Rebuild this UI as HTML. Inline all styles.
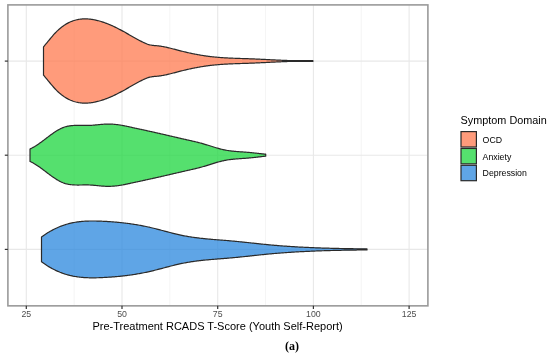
<!DOCTYPE html>
<html><head><meta charset="utf-8"><style>html,body{margin:0;padding:0;background:#fff;width:550px;height:355px;overflow:hidden}svg{display:block}text{font-family:"Liberation Sans",sans-serif}text.sf{font-family:"Liberation Serif",serif}</style></head>
<body>
<svg width="550" height="355" viewBox="0 0 550 355">
<rect x="0" y="0" width="550" height="355" fill="#ffffff"/>
<line x1="74.15" y1="4.9" x2="74.15" y2="305.85" stroke="#ececec" stroke-width="0.6"/>
<line x1="169.85" y1="4.9" x2="169.85" y2="305.85" stroke="#ececec" stroke-width="0.6"/>
<line x1="265.55" y1="4.9" x2="265.55" y2="305.85" stroke="#ececec" stroke-width="0.6"/>
<line x1="361.25" y1="4.9" x2="361.25" y2="305.85" stroke="#ececec" stroke-width="0.6"/>
<line x1="26.30" y1="4.9" x2="26.30" y2="305.85" stroke="#e8e8e8" stroke-width="1.1"/>
<line x1="122.00" y1="4.9" x2="122.00" y2="305.85" stroke="#e8e8e8" stroke-width="1.1"/>
<line x1="217.70" y1="4.9" x2="217.70" y2="305.85" stroke="#e8e8e8" stroke-width="1.1"/>
<line x1="313.40" y1="4.9" x2="313.40" y2="305.85" stroke="#e8e8e8" stroke-width="1.1"/>
<line x1="409.10" y1="4.9" x2="409.10" y2="305.85" stroke="#e8e8e8" stroke-width="1.1"/>
<line x1="7.9" y1="61.1" x2="427.9" y2="61.1" stroke="#e8e8e8" stroke-width="1.1"/>
<line x1="7.9" y1="155.2" x2="427.9" y2="155.2" stroke="#e8e8e8" stroke-width="1.1"/>
<line x1="7.9" y1="249.4" x2="427.9" y2="249.4" stroke="#e8e8e8" stroke-width="1.1"/>
<path d="M43.50,46.80 L44.40,45.77 L45.30,44.72 L46.20,43.65 L47.10,42.56 L48.01,41.46 L48.91,40.36 L49.81,39.25 L50.71,38.16 L51.61,37.08 L52.51,36.02 L53.41,34.98 L54.31,33.97 L55.21,33.00 L56.11,32.07 L57.02,31.17 L57.92,30.31 L58.82,29.48 L59.72,28.69 L60.62,27.94 L61.52,27.22 L62.42,26.54 L63.32,25.89 L64.22,25.27 L65.12,24.68 L66.03,24.13 L66.93,23.60 L67.83,23.11 L68.73,22.65 L69.63,22.22 L70.53,21.81 L71.43,21.44 L72.33,21.09 L73.23,20.77 L74.13,20.48 L75.04,20.21 L75.94,19.97 L76.84,19.76 L77.74,19.57 L78.64,19.40 L79.54,19.26 L80.44,19.14 L81.34,19.04 L82.24,18.97 L83.14,18.92 L84.05,18.88 L84.95,18.87 L85.85,18.88 L86.75,18.91 L87.65,18.95 L88.55,19.02 L89.45,19.10 L90.35,19.20 L91.25,19.31 L92.15,19.45 L93.06,19.59 L93.96,19.76 L94.86,19.93 L95.76,20.12 L96.66,20.33 L97.56,20.55 L98.46,20.78 L99.36,21.02 L100.26,21.28 L101.16,21.55 L102.07,21.83 L102.97,22.12 L103.87,22.43 L104.77,22.75 L105.67,23.07 L106.57,23.41 L107.47,23.76 L108.37,24.12 L109.27,24.49 L110.17,24.87 L111.08,25.26 L111.98,25.66 L112.88,26.07 L113.78,26.49 L114.68,26.91 L115.58,27.35 L116.48,27.79 L117.38,28.24 L118.28,28.70 L119.18,29.17 L120.09,29.64 L120.99,30.12 L121.89,30.61 L122.79,31.10 L123.69,31.60 L124.59,32.10 L125.49,32.60 L126.39,33.11 L127.29,33.62 L128.19,34.13 L129.10,34.65 L130.00,35.16 L130.90,35.68 L131.80,36.19 L132.70,36.70 L133.60,37.21 L134.50,37.72 L135.40,38.22 L136.30,38.72 L137.20,39.22 L138.11,39.71 L139.01,40.20 L139.91,40.68 L140.81,41.15 L141.71,41.61 L142.61,42.06 L143.51,42.49 L144.41,42.90 L145.31,43.29 L146.21,43.66 L147.12,44.00 L148.02,44.31 L148.92,44.59 L149.82,44.83 L150.72,45.03 L151.62,45.20 L152.52,45.33 L153.42,45.44 L154.32,45.54 L155.22,45.62 L156.13,45.69 L157.03,45.77 L157.93,45.86 L158.83,45.96 L159.73,46.08 L160.63,46.21 L161.53,46.35 L162.43,46.50 L163.33,46.66 L164.23,46.84 L165.14,47.02 L166.04,47.21 L166.94,47.41 L167.84,47.61 L168.74,47.82 L169.64,48.04 L170.54,48.27 L171.44,48.49 L172.34,48.72 L173.24,48.96 L174.15,49.19 L175.05,49.43 L175.95,49.67 L176.85,49.90 L177.75,50.14 L178.65,50.37 L179.55,50.61 L180.45,50.84 L181.35,51.06 L182.25,51.29 L183.16,51.51 L184.06,51.73 L184.96,51.94 L185.86,52.16 L186.76,52.36 L187.66,52.57 L188.56,52.77 L189.46,52.97 L190.36,53.17 L191.26,53.36 L192.17,53.55 L193.07,53.73 L193.97,53.92 L194.87,54.09 L195.77,54.27 L196.67,54.44 L197.57,54.61 L198.47,54.77 L199.37,54.93 L200.27,55.09 L201.18,55.24 L202.08,55.39 L202.98,55.53 L203.88,55.67 L204.78,55.81 L205.68,55.94 L206.58,56.07 L207.48,56.19 L208.38,56.31 L209.28,56.42 L210.19,56.53 L211.09,56.64 L211.99,56.74 L212.89,56.84 L213.79,56.93 L214.69,57.02 L215.59,57.11 L216.49,57.19 L217.39,57.27 L218.29,57.35 L219.20,57.42 L220.10,57.49 L221.00,57.56 L221.90,57.62 L222.80,57.68 L223.70,57.74 L224.60,57.79 L225.50,57.84 L226.40,57.89 L227.30,57.94 L228.21,57.99 L229.11,58.03 L230.01,58.07 L230.91,58.11 L231.81,58.15 L232.71,58.19 L233.61,58.23 L234.51,58.26 L235.41,58.29 L236.31,58.33 L237.22,58.36 L238.12,58.39 L239.02,58.42 L239.92,58.45 L240.82,58.48 L241.72,58.51 L242.62,58.54 L243.52,58.56 L244.42,58.59 L245.32,58.62 L246.23,58.65 L247.13,58.68 L248.03,58.71 L248.93,58.74 L249.83,58.78 L250.73,58.81 L251.63,58.84 L252.53,58.88 L253.43,58.91 L254.33,58.95 L255.24,58.99 L256.14,59.03 L257.04,59.07 L257.94,59.11 L258.84,59.15 L259.74,59.19 L260.64,59.24 L261.54,59.28 L262.44,59.33 L263.34,59.37 L264.25,59.42 L265.15,59.46 L266.05,59.51 L266.95,59.55 L267.85,59.60 L268.75,59.65 L269.65,59.69 L270.55,59.74 L271.45,59.78 L272.35,59.83 L273.26,59.87 L274.16,59.92 L275.06,59.96 L275.96,60.01 L276.86,60.05 L277.76,60.09 L278.66,60.14 L279.56,60.18 L280.46,60.22 L281.36,60.26 L282.27,60.30 L283.17,60.33 L284.07,60.37 L284.97,60.41 L285.87,60.44 L286.77,60.47 L287.67,60.50 L288.57,60.53 L289.47,60.56 L290.37,60.59 L291.28,60.61 L292.18,60.64 L293.08,60.66 L293.98,60.68 L294.88,60.70 L295.78,60.70 L296.68,60.70 L297.58,60.70 L298.48,60.70 L299.38,60.70 L300.29,60.70 L301.19,60.70 L302.09,60.70 L302.99,60.70 L303.89,60.70 L304.79,60.70 L305.69,60.70 L306.59,60.70 L307.49,60.70 L308.39,60.69 L309.30,60.67 L310.20,60.64 L311.10,60.61 L312.00,60.58 L312.90,60.55 L312.90,61.45 L312.00,61.42 L311.10,61.39 L310.20,61.36 L309.30,61.33 L308.39,61.31 L307.49,61.30 L306.59,61.30 L305.69,61.30 L304.79,61.30 L303.89,61.30 L302.99,61.30 L302.09,61.30 L301.19,61.30 L300.29,61.30 L299.38,61.30 L298.48,61.30 L297.58,61.30 L296.68,61.30 L295.78,61.30 L294.88,61.30 L293.98,61.32 L293.08,61.34 L292.18,61.36 L291.28,61.39 L290.37,61.41 L289.47,61.44 L288.57,61.47 L287.67,61.50 L286.77,61.53 L285.87,61.56 L284.97,61.59 L284.07,61.63 L283.17,61.67 L282.27,61.70 L281.36,61.74 L280.46,61.78 L279.56,61.82 L278.66,61.86 L277.76,61.91 L276.86,61.95 L275.96,61.99 L275.06,62.04 L274.16,62.08 L273.26,62.13 L272.35,62.17 L271.45,62.22 L270.55,62.26 L269.65,62.31 L268.75,62.35 L267.85,62.40 L266.95,62.45 L266.05,62.49 L265.15,62.54 L264.25,62.58 L263.34,62.63 L262.44,62.67 L261.54,62.72 L260.64,62.76 L259.74,62.81 L258.84,62.85 L257.94,62.89 L257.04,62.93 L256.14,62.97 L255.24,63.01 L254.33,63.05 L253.43,63.09 L252.53,63.12 L251.63,63.16 L250.73,63.19 L249.83,63.22 L248.93,63.26 L248.03,63.29 L247.13,63.32 L246.23,63.35 L245.32,63.38 L244.42,63.41 L243.52,63.44 L242.62,63.46 L241.72,63.49 L240.82,63.52 L239.92,63.55 L239.02,63.58 L238.12,63.61 L237.22,63.64 L236.31,63.67 L235.41,63.71 L234.51,63.74 L233.61,63.77 L232.71,63.81 L231.81,63.85 L230.91,63.89 L230.01,63.93 L229.11,63.97 L228.21,64.01 L227.30,64.06 L226.40,64.11 L225.50,64.16 L224.60,64.21 L223.70,64.26 L222.80,64.32 L221.90,64.38 L221.00,64.44 L220.10,64.51 L219.20,64.58 L218.29,64.65 L217.39,64.73 L216.49,64.81 L215.59,64.89 L214.69,64.98 L213.79,65.07 L212.89,65.16 L211.99,65.26 L211.09,65.36 L210.19,65.47 L209.28,65.58 L208.38,65.69 L207.48,65.81 L206.58,65.93 L205.68,66.06 L204.78,66.19 L203.88,66.33 L202.98,66.47 L202.08,66.61 L201.18,66.76 L200.27,66.91 L199.37,67.07 L198.47,67.23 L197.57,67.39 L196.67,67.56 L195.77,67.73 L194.87,67.91 L193.97,68.08 L193.07,68.27 L192.17,68.45 L191.26,68.64 L190.36,68.83 L189.46,69.03 L188.56,69.23 L187.66,69.43 L186.76,69.64 L185.86,69.84 L184.96,70.06 L184.06,70.27 L183.16,70.49 L182.25,70.71 L181.35,70.94 L180.45,71.16 L179.55,71.39 L178.65,71.63 L177.75,71.86 L176.85,72.10 L175.95,72.33 L175.05,72.57 L174.15,72.81 L173.24,73.04 L172.34,73.28 L171.44,73.51 L170.54,73.73 L169.64,73.96 L168.74,74.18 L167.84,74.39 L166.94,74.59 L166.04,74.79 L165.14,74.98 L164.23,75.16 L163.33,75.34 L162.43,75.50 L161.53,75.65 L160.63,75.79 L159.73,75.92 L158.83,76.04 L157.93,76.14 L157.03,76.23 L156.13,76.31 L155.22,76.38 L154.32,76.46 L153.42,76.56 L152.52,76.67 L151.62,76.80 L150.72,76.97 L149.82,77.17 L148.92,77.41 L148.02,77.69 L147.12,78.00 L146.21,78.34 L145.31,78.71 L144.41,79.10 L143.51,79.51 L142.61,79.94 L141.71,80.39 L140.81,80.85 L139.91,81.32 L139.01,81.80 L138.11,82.29 L137.20,82.78 L136.30,83.28 L135.40,83.78 L134.50,84.28 L133.60,84.79 L132.70,85.30 L131.80,85.81 L130.90,86.32 L130.00,86.84 L129.10,87.35 L128.19,87.87 L127.29,88.38 L126.39,88.89 L125.49,89.40 L124.59,89.90 L123.69,90.40 L122.79,90.90 L121.89,91.39 L120.99,91.88 L120.09,92.36 L119.18,92.83 L118.28,93.30 L117.38,93.76 L116.48,94.21 L115.58,94.65 L114.68,95.09 L113.78,95.51 L112.88,95.93 L111.98,96.34 L111.08,96.74 L110.17,97.13 L109.27,97.51 L108.37,97.88 L107.47,98.24 L106.57,98.59 L105.67,98.93 L104.77,99.25 L103.87,99.57 L102.97,99.88 L102.07,100.17 L101.16,100.45 L100.26,100.72 L99.36,100.98 L98.46,101.22 L97.56,101.45 L96.66,101.67 L95.76,101.88 L94.86,102.07 L93.96,102.24 L93.06,102.41 L92.15,102.55 L91.25,102.69 L90.35,102.80 L89.45,102.90 L88.55,102.98 L87.65,103.05 L86.75,103.09 L85.85,103.12 L84.95,103.13 L84.05,103.12 L83.14,103.08 L82.24,103.03 L81.34,102.96 L80.44,102.86 L79.54,102.74 L78.64,102.60 L77.74,102.43 L76.84,102.24 L75.94,102.03 L75.04,101.79 L74.13,101.52 L73.23,101.23 L72.33,100.91 L71.43,100.56 L70.53,100.19 L69.63,99.78 L68.73,99.35 L67.83,98.89 L66.93,98.40 L66.03,97.87 L65.12,97.32 L64.22,96.73 L63.32,96.11 L62.42,95.46 L61.52,94.78 L60.62,94.06 L59.72,93.31 L58.82,92.52 L57.92,91.69 L57.02,90.83 L56.11,89.93 L55.21,89.00 L54.31,88.03 L53.41,87.02 L52.51,85.98 L51.61,84.92 L50.71,83.84 L49.81,82.75 L48.91,81.64 L48.01,80.54 L47.10,79.44 L46.20,78.35 L45.30,77.28 L44.40,76.23 L43.50,75.20 Z" fill="#FF7A4F" fill-opacity="0.75" stroke="#2a2a2a" stroke-width="1.2" stroke-linejoin="round"/>
<path d="M30.00,149.00 L30.79,148.62 L31.58,148.22 L32.36,147.81 L33.15,147.37 L33.94,146.92 L34.73,146.46 L35.52,145.97 L36.31,145.48 L37.09,144.96 L37.88,144.44 L38.67,143.90 L39.46,143.36 L40.25,142.80 L41.04,142.23 L41.82,141.65 L42.61,141.07 L43.40,140.48 L44.19,139.88 L44.98,139.28 L45.77,138.68 L46.55,138.08 L47.34,137.47 L48.13,136.87 L48.92,136.28 L49.71,135.68 L50.50,135.10 L51.28,134.52 L52.07,133.95 L52.86,133.39 L53.65,132.84 L54.44,132.31 L55.23,131.79 L56.01,131.28 L56.80,130.79 L57.59,130.32 L58.38,129.86 L59.17,129.43 L59.96,129.01 L60.74,128.62 L61.53,128.25 L62.32,127.91 L63.11,127.59 L63.90,127.30 L64.68,127.03 L65.47,126.79 L66.26,126.58 L67.05,126.38 L67.84,126.21 L68.63,126.06 L69.41,125.92 L70.20,125.81 L70.99,125.71 L71.78,125.63 L72.57,125.56 L73.36,125.50 L74.14,125.46 L74.93,125.42 L75.72,125.40 L76.51,125.38 L77.30,125.37 L78.09,125.37 L78.87,125.37 L79.66,125.38 L80.45,125.39 L81.24,125.40 L82.03,125.41 L82.82,125.43 L83.60,125.44 L84.39,125.45 L85.18,125.46 L85.97,125.46 L86.76,125.46 L87.55,125.45 L88.33,125.44 L89.12,125.42 L89.91,125.39 L90.70,125.35 L91.49,125.31 L92.28,125.25 L93.06,125.19 L93.85,125.12 L94.64,125.05 L95.43,124.97 L96.22,124.90 L97.01,124.81 L97.79,124.73 L98.58,124.65 L99.37,124.57 L100.16,124.49 L100.95,124.42 L101.73,124.35 L102.52,124.29 L103.31,124.23 L104.10,124.18 L104.89,124.14 L105.68,124.11 L106.46,124.09 L107.25,124.07 L108.04,124.07 L108.83,124.07 L109.62,124.08 L110.41,124.10 L111.19,124.13 L111.98,124.16 L112.77,124.21 L113.56,124.26 L114.35,124.33 L115.14,124.40 L115.92,124.48 L116.71,124.57 L117.50,124.66 L118.29,124.77 L119.08,124.88 L119.87,125.00 L120.65,125.13 L121.44,125.27 L122.23,125.41 L123.02,125.55 L123.81,125.71 L124.60,125.86 L125.38,126.02 L126.17,126.19 L126.96,126.35 L127.75,126.52 L128.54,126.69 L129.33,126.86 L130.11,127.03 L130.90,127.20 L131.69,127.38 L132.48,127.55 L133.27,127.72 L134.05,127.89 L134.84,128.06 L135.63,128.23 L136.42,128.40 L137.21,128.57 L138.00,128.74 L138.78,128.91 L139.57,129.09 L140.36,129.26 L141.15,129.43 L141.94,129.60 L142.73,129.77 L143.51,129.94 L144.30,130.11 L145.09,130.28 L145.88,130.45 L146.67,130.63 L147.46,130.80 L148.24,130.97 L149.03,131.14 L149.82,131.32 L150.61,131.49 L151.40,131.66 L152.19,131.84 L152.97,132.01 L153.76,132.19 L154.55,132.36 L155.34,132.54 L156.13,132.72 L156.92,132.89 L157.70,133.07 L158.49,133.25 L159.28,133.43 L160.07,133.61 L160.86,133.79 L161.65,133.97 L162.43,134.15 L163.22,134.33 L164.01,134.51 L164.80,134.69 L165.59,134.88 L166.37,135.06 L167.16,135.24 L167.95,135.42 L168.74,135.61 L169.53,135.79 L170.32,135.97 L171.10,136.16 L171.89,136.34 L172.68,136.52 L173.47,136.71 L174.26,136.89 L175.05,137.08 L175.83,137.26 L176.62,137.44 L177.41,137.62 L178.20,137.81 L178.99,137.99 L179.78,138.17 L180.56,138.36 L181.35,138.54 L182.14,138.72 L182.93,138.90 L183.72,139.08 L184.51,139.26 L185.29,139.44 L186.08,139.62 L186.87,139.80 L187.66,139.98 L188.45,140.15 L189.24,140.33 L190.02,140.51 L190.81,140.69 L191.60,140.87 L192.39,141.05 L193.18,141.23 L193.97,141.41 L194.75,141.60 L195.54,141.79 L196.33,141.98 L197.12,142.17 L197.91,142.37 L198.69,142.57 L199.48,142.77 L200.27,142.98 L201.06,143.19 L201.85,143.41 L202.64,143.63 L203.42,143.86 L204.21,144.09 L205.00,144.32 L205.79,144.56 L206.58,144.81 L207.37,145.05 L208.15,145.30 L208.94,145.55 L209.73,145.79 L210.52,146.04 L211.31,146.29 L212.10,146.54 L212.88,146.78 L213.67,147.03 L214.46,147.27 L215.25,147.51 L216.04,147.74 L216.83,147.98 L217.61,148.20 L218.40,148.42 L219.19,148.64 L219.98,148.85 L220.77,149.05 L221.56,149.25 L222.34,149.44 L223.13,149.61 L223.92,149.79 L224.71,149.95 L225.50,150.10 L226.29,150.24 L227.07,150.38 L227.86,150.50 L228.65,150.62 L229.44,150.73 L230.23,150.84 L231.02,150.94 L231.80,151.03 L232.59,151.12 L233.38,151.20 L234.17,151.28 L234.96,151.35 L235.74,151.42 L236.53,151.49 L237.32,151.55 L238.11,151.61 L238.90,151.67 L239.69,151.73 L240.47,151.79 L241.26,151.84 L242.05,151.89 L242.84,151.95 L243.63,152.00 L244.42,152.06 L245.20,152.12 L245.99,152.17 L246.78,152.23 L247.57,152.30 L248.36,152.36 L249.15,152.43 L249.93,152.50 L250.72,152.58 L251.51,152.66 L252.30,152.74 L253.09,152.82 L253.88,152.91 L254.66,152.99 L255.45,153.08 L256.24,153.17 L257.03,153.26 L257.82,153.35 L258.61,153.44 L259.39,153.53 L260.18,153.62 L260.97,153.71 L261.76,153.80 L262.55,153.88 L263.34,153.97 L264.12,154.05 L264.91,154.13 L265.70,154.20 L265.70,156.20 L264.91,156.27 L264.12,156.35 L263.34,156.43 L262.55,156.52 L261.76,156.60 L260.97,156.69 L260.18,156.78 L259.39,156.87 L258.61,156.96 L257.82,157.05 L257.03,157.14 L256.24,157.23 L255.45,157.32 L254.66,157.41 L253.88,157.49 L253.09,157.58 L252.30,157.66 L251.51,157.74 L250.72,157.82 L249.93,157.90 L249.15,157.97 L248.36,158.04 L247.57,158.10 L246.78,158.17 L245.99,158.23 L245.20,158.28 L244.42,158.34 L243.63,158.40 L242.84,158.45 L242.05,158.51 L241.26,158.56 L240.47,158.61 L239.69,158.67 L238.90,158.73 L238.11,158.79 L237.32,158.85 L236.53,158.91 L235.74,158.98 L234.96,159.05 L234.17,159.12 L233.38,159.20 L232.59,159.28 L231.80,159.37 L231.02,159.46 L230.23,159.56 L229.44,159.67 L228.65,159.78 L227.86,159.90 L227.07,160.02 L226.29,160.16 L225.50,160.30 L224.71,160.45 L223.92,160.61 L223.13,160.79 L222.34,160.96 L221.56,161.15 L220.77,161.35 L219.98,161.55 L219.19,161.76 L218.40,161.98 L217.61,162.20 L216.83,162.42 L216.04,162.66 L215.25,162.89 L214.46,163.13 L213.67,163.37 L212.88,163.62 L212.10,163.86 L211.31,164.11 L210.52,164.36 L209.73,164.61 L208.94,164.85 L208.15,165.10 L207.37,165.35 L206.58,165.59 L205.79,165.84 L205.00,166.08 L204.21,166.31 L203.42,166.54 L202.64,166.77 L201.85,166.99 L201.06,167.21 L200.27,167.42 L199.48,167.63 L198.69,167.83 L197.91,168.03 L197.12,168.23 L196.33,168.42 L195.54,168.61 L194.75,168.80 L193.97,168.99 L193.18,169.17 L192.39,169.35 L191.60,169.53 L190.81,169.71 L190.02,169.89 L189.24,170.07 L188.45,170.25 L187.66,170.42 L186.87,170.60 L186.08,170.78 L185.29,170.96 L184.51,171.14 L183.72,171.32 L182.93,171.50 L182.14,171.68 L181.35,171.86 L180.56,172.04 L179.78,172.23 L178.99,172.41 L178.20,172.59 L177.41,172.78 L176.62,172.96 L175.83,173.14 L175.05,173.32 L174.26,173.51 L173.47,173.69 L172.68,173.88 L171.89,174.06 L171.10,174.24 L170.32,174.43 L169.53,174.61 L168.74,174.79 L167.95,174.98 L167.16,175.16 L166.37,175.34 L165.59,175.52 L164.80,175.71 L164.01,175.89 L163.22,176.07 L162.43,176.25 L161.65,176.43 L160.86,176.61 L160.07,176.79 L159.28,176.97 L158.49,177.15 L157.70,177.33 L156.92,177.51 L156.13,177.68 L155.34,177.86 L154.55,178.04 L153.76,178.21 L152.97,178.39 L152.19,178.56 L151.40,178.74 L150.61,178.91 L149.82,179.08 L149.03,179.26 L148.24,179.43 L147.46,179.60 L146.67,179.77 L145.88,179.95 L145.09,180.12 L144.30,180.29 L143.51,180.46 L142.73,180.63 L141.94,180.80 L141.15,180.97 L140.36,181.14 L139.57,181.31 L138.78,181.49 L138.00,181.66 L137.21,181.83 L136.42,182.00 L135.63,182.17 L134.84,182.34 L134.05,182.51 L133.27,182.68 L132.48,182.85 L131.69,183.02 L130.90,183.20 L130.11,183.37 L129.33,183.54 L128.54,183.71 L127.75,183.88 L126.96,184.05 L126.17,184.21 L125.38,184.38 L124.60,184.54 L123.81,184.69 L123.02,184.85 L122.23,184.99 L121.44,185.13 L120.65,185.27 L119.87,185.40 L119.08,185.52 L118.29,185.63 L117.50,185.74 L116.71,185.83 L115.92,185.92 L115.14,186.00 L114.35,186.07 L113.56,186.14 L112.77,186.19 L111.98,186.24 L111.19,186.27 L110.41,186.30 L109.62,186.32 L108.83,186.33 L108.04,186.33 L107.25,186.33 L106.46,186.31 L105.68,186.29 L104.89,186.26 L104.10,186.22 L103.31,186.17 L102.52,186.11 L101.73,186.05 L100.95,185.98 L100.16,185.91 L99.37,185.83 L98.58,185.75 L97.79,185.67 L97.01,185.59 L96.22,185.50 L95.43,185.43 L94.64,185.35 L93.85,185.28 L93.06,185.21 L92.28,185.15 L91.49,185.09 L90.70,185.05 L89.91,185.01 L89.12,184.98 L88.33,184.96 L87.55,184.95 L86.76,184.94 L85.97,184.94 L85.18,184.94 L84.39,184.95 L83.60,184.96 L82.82,184.97 L82.03,184.99 L81.24,185.00 L80.45,185.01 L79.66,185.02 L78.87,185.03 L78.09,185.03 L77.30,185.03 L76.51,185.02 L75.72,185.00 L74.93,184.98 L74.14,184.94 L73.36,184.90 L72.57,184.84 L71.78,184.77 L70.99,184.69 L70.20,184.59 L69.41,184.48 L68.63,184.34 L67.84,184.19 L67.05,184.02 L66.26,183.82 L65.47,183.61 L64.68,183.37 L63.90,183.10 L63.11,182.81 L62.32,182.49 L61.53,182.15 L60.74,181.78 L59.96,181.39 L59.17,180.97 L58.38,180.54 L57.59,180.08 L56.80,179.61 L56.01,179.12 L55.23,178.61 L54.44,178.09 L53.65,177.56 L52.86,177.01 L52.07,176.45 L51.28,175.88 L50.50,175.30 L49.71,174.72 L48.92,174.12 L48.13,173.53 L47.34,172.93 L46.55,172.32 L45.77,171.72 L44.98,171.12 L44.19,170.52 L43.40,169.92 L42.61,169.33 L41.82,168.75 L41.04,168.17 L40.25,167.60 L39.46,167.04 L38.67,166.50 L37.88,165.96 L37.09,165.44 L36.31,164.92 L35.52,164.43 L34.73,163.94 L33.94,163.48 L33.15,163.03 L32.36,162.59 L31.58,162.18 L30.79,161.78 L30.00,161.40 Z" fill="#1CD63E" fill-opacity="0.75" stroke="#2a2a2a" stroke-width="1.2" stroke-linejoin="round"/>
<path d="M41.50,237.00 L42.59,236.22 L43.68,235.45 L44.77,234.70 L45.85,233.98 L46.94,233.28 L48.03,232.60 L49.12,231.94 L50.21,231.31 L51.30,230.70 L52.39,230.10 L53.47,229.53 L54.56,228.98 L55.65,228.45 L56.74,227.95 L57.83,227.46 L58.92,226.99 L60.01,226.54 L61.10,226.12 L62.18,225.71 L63.27,225.32 L64.36,224.95 L65.45,224.60 L66.54,224.27 L67.63,223.96 L68.72,223.67 L69.80,223.39 L70.89,223.14 L71.98,222.90 L73.07,222.67 L74.16,222.47 L75.25,222.28 L76.34,222.10 L77.42,221.94 L78.51,221.79 L79.60,221.66 L80.69,221.54 L81.78,221.43 L82.87,221.34 L83.96,221.26 L85.05,221.19 L86.13,221.13 L87.22,221.08 L88.31,221.04 L89.40,221.01 L90.49,220.99 L91.58,220.98 L92.67,220.98 L93.75,220.98 L94.84,221.00 L95.93,221.02 L97.02,221.04 L98.11,221.07 L99.20,221.11 L100.29,221.15 L101.37,221.19 L102.46,221.24 L103.55,221.30 L104.64,221.35 L105.73,221.41 L106.82,221.47 L107.91,221.54 L108.99,221.61 L110.08,221.68 L111.17,221.76 L112.26,221.84 L113.35,221.92 L114.44,222.01 L115.53,222.10 L116.62,222.20 L117.70,222.29 L118.79,222.40 L119.88,222.51 L120.97,222.62 L122.06,222.73 L123.15,222.85 L124.24,222.98 L125.32,223.11 L126.41,223.24 L127.50,223.38 L128.59,223.52 L129.68,223.67 L130.77,223.82 L131.86,223.98 L132.94,224.14 L134.03,224.31 L135.12,224.48 L136.21,224.66 L137.30,224.84 L138.39,225.03 L139.48,225.22 L140.57,225.42 L141.65,225.62 L142.74,225.83 L143.83,226.05 L144.92,226.27 L146.01,226.50 L147.10,226.73 L148.19,226.97 L149.27,227.21 L150.36,227.46 L151.45,227.72 L152.54,227.98 L153.63,228.25 L154.72,228.52 L155.81,228.79 L156.89,229.07 L157.98,229.35 L159.07,229.64 L160.16,229.92 L161.25,230.21 L162.34,230.50 L163.43,230.79 L164.52,231.08 L165.60,231.36 L166.69,231.65 L167.78,231.94 L168.87,232.23 L169.96,232.51 L171.05,232.79 L172.14,233.07 L173.22,233.34 L174.31,233.61 L175.40,233.88 L176.49,234.14 L177.58,234.39 L178.67,234.64 L179.76,234.88 L180.84,235.12 L181.93,235.35 L183.02,235.57 L184.11,235.79 L185.20,235.99 L186.29,236.19 L187.38,236.38 L188.46,236.57 L189.55,236.75 L190.64,236.92 L191.73,237.09 L192.82,237.25 L193.91,237.40 L195.00,237.55 L196.09,237.70 L197.17,237.84 L198.26,237.97 L199.35,238.10 L200.44,238.23 L201.53,238.35 L202.62,238.46 L203.71,238.58 L204.79,238.69 L205.88,238.80 L206.97,238.90 L208.06,239.00 L209.15,239.10 L210.24,239.20 L211.33,239.29 L212.41,239.39 L213.50,239.48 L214.59,239.57 L215.68,239.66 L216.77,239.74 L217.86,239.83 L218.95,239.92 L220.04,240.00 L221.12,240.09 L222.21,240.17 L223.30,240.26 L224.39,240.35 L225.48,240.44 L226.57,240.52 L227.66,240.62 L228.74,240.71 L229.83,240.80 L230.92,240.90 L232.01,240.99 L233.10,241.09 L234.19,241.19 L235.28,241.30 L236.36,241.40 L237.45,241.51 L238.54,241.62 L239.63,241.73 L240.72,241.84 L241.81,241.95 L242.90,242.06 L243.98,242.18 L245.07,242.29 L246.16,242.40 L247.25,242.52 L248.34,242.64 L249.43,242.75 L250.52,242.87 L251.61,242.99 L252.69,243.10 L253.78,243.22 L254.87,243.34 L255.96,243.45 L257.05,243.57 L258.14,243.69 L259.23,243.80 L260.31,243.91 L261.40,244.03 L262.49,244.14 L263.58,244.25 L264.67,244.36 L265.76,244.47 L266.85,244.58 L267.93,244.68 L269.02,244.79 L270.11,244.89 L271.20,244.99 L272.29,245.09 L273.38,245.19 L274.47,245.28 L275.56,245.37 L276.64,245.47 L277.73,245.56 L278.82,245.64 L279.91,245.73 L281.00,245.82 L282.09,245.90 L283.18,245.98 L284.26,246.06 L285.35,246.14 L286.44,246.22 L287.53,246.30 L288.62,246.37 L289.71,246.44 L290.80,246.51 L291.88,246.58 L292.97,246.65 L294.06,246.72 L295.15,246.79 L296.24,246.85 L297.33,246.91 L298.42,246.98 L299.51,247.04 L300.59,247.09 L301.68,247.15 L302.77,247.21 L303.86,247.26 L304.95,247.32 L306.04,247.37 L307.13,247.42 L308.21,247.47 L309.30,247.52 L310.39,247.57 L311.48,247.62 L312.57,247.66 L313.66,247.71 L314.75,247.75 L315.83,247.79 L316.92,247.83 L318.01,247.87 L319.10,247.91 L320.19,247.95 L321.28,247.99 L322.37,248.03 L323.45,248.06 L324.54,248.10 L325.63,248.13 L326.72,248.16 L327.81,248.19 L328.90,248.22 L329.99,248.25 L331.08,248.28 L332.16,248.31 L333.25,248.34 L334.34,248.37 L335.43,248.39 L336.52,248.42 L337.61,248.44 L338.70,248.47 L339.78,248.49 L340.87,248.51 L341.96,248.53 L343.05,248.56 L344.14,248.58 L345.23,248.60 L346.32,248.62 L347.40,248.63 L348.49,248.65 L349.58,248.67 L350.67,248.69 L351.76,248.70 L352.85,248.72 L353.94,248.74 L355.03,248.75 L356.11,248.77 L357.20,248.78 L358.29,248.80 L359.38,248.81 L360.47,248.82 L361.56,248.84 L362.65,248.85 L363.73,248.86 L364.82,248.87 L365.91,248.89 L367.00,248.90 L367.00,249.90 L365.91,249.91 L364.82,249.93 L363.73,249.94 L362.65,249.95 L361.56,249.96 L360.47,249.98 L359.38,249.99 L358.29,250.00 L357.20,250.02 L356.11,250.03 L355.03,250.05 L353.94,250.06 L352.85,250.08 L351.76,250.10 L350.67,250.11 L349.58,250.13 L348.49,250.15 L347.40,250.17 L346.32,250.18 L345.23,250.20 L344.14,250.22 L343.05,250.24 L341.96,250.27 L340.87,250.29 L339.78,250.31 L338.70,250.33 L337.61,250.36 L336.52,250.38 L335.43,250.41 L334.34,250.43 L333.25,250.46 L332.16,250.49 L331.08,250.52 L329.99,250.55 L328.90,250.58 L327.81,250.61 L326.72,250.64 L325.63,250.67 L324.54,250.70 L323.45,250.74 L322.37,250.77 L321.28,250.81 L320.19,250.85 L319.10,250.89 L318.01,250.93 L316.92,250.97 L315.83,251.01 L314.75,251.05 L313.66,251.09 L312.57,251.14 L311.48,251.18 L310.39,251.23 L309.30,251.28 L308.21,251.33 L307.13,251.38 L306.04,251.43 L304.95,251.48 L303.86,251.54 L302.77,251.59 L301.68,251.65 L300.59,251.71 L299.51,251.76 L298.42,251.82 L297.33,251.89 L296.24,251.95 L295.15,252.01 L294.06,252.08 L292.97,252.15 L291.88,252.22 L290.80,252.29 L289.71,252.36 L288.62,252.43 L287.53,252.50 L286.44,252.58 L285.35,252.66 L284.26,252.74 L283.18,252.82 L282.09,252.90 L281.00,252.98 L279.91,253.07 L278.82,253.16 L277.73,253.24 L276.64,253.33 L275.56,253.43 L274.47,253.52 L273.38,253.61 L272.29,253.71 L271.20,253.81 L270.11,253.91 L269.02,254.01 L267.93,254.12 L266.85,254.22 L265.76,254.33 L264.67,254.44 L263.58,254.55 L262.49,254.66 L261.40,254.77 L260.31,254.89 L259.23,255.00 L258.14,255.11 L257.05,255.23 L255.96,255.35 L254.87,255.46 L253.78,255.58 L252.69,255.70 L251.61,255.81 L250.52,255.93 L249.43,256.05 L248.34,256.16 L247.25,256.28 L246.16,256.40 L245.07,256.51 L243.98,256.62 L242.90,256.74 L241.81,256.85 L240.72,256.96 L239.63,257.07 L238.54,257.18 L237.45,257.29 L236.36,257.40 L235.28,257.50 L234.19,257.61 L233.10,257.71 L232.01,257.81 L230.92,257.90 L229.83,258.00 L228.74,258.09 L227.66,258.18 L226.57,258.28 L225.48,258.36 L224.39,258.45 L223.30,258.54 L222.21,258.63 L221.12,258.71 L220.04,258.80 L218.95,258.88 L217.86,258.97 L216.77,259.06 L215.68,259.14 L214.59,259.23 L213.50,259.32 L212.41,259.41 L211.33,259.51 L210.24,259.60 L209.15,259.70 L208.06,259.80 L206.97,259.90 L205.88,260.00 L204.79,260.11 L203.71,260.22 L202.62,260.34 L201.53,260.45 L200.44,260.57 L199.35,260.70 L198.26,260.83 L197.17,260.96 L196.09,261.10 L195.00,261.25 L193.91,261.40 L192.82,261.55 L191.73,261.71 L190.64,261.88 L189.55,262.05 L188.46,262.23 L187.38,262.42 L186.29,262.61 L185.20,262.81 L184.11,263.01 L183.02,263.23 L181.93,263.45 L180.84,263.68 L179.76,263.92 L178.67,264.16 L177.58,264.41 L176.49,264.66 L175.40,264.92 L174.31,265.19 L173.22,265.46 L172.14,265.73 L171.05,266.01 L169.96,266.29 L168.87,266.57 L167.78,266.86 L166.69,267.15 L165.60,267.44 L164.52,267.72 L163.43,268.01 L162.34,268.30 L161.25,268.59 L160.16,268.88 L159.07,269.16 L157.98,269.45 L156.89,269.73 L155.81,270.01 L154.72,270.28 L153.63,270.55 L152.54,270.82 L151.45,271.08 L150.36,271.34 L149.27,271.59 L148.19,271.83 L147.10,272.07 L146.01,272.30 L144.92,272.53 L143.83,272.75 L142.74,272.97 L141.65,273.18 L140.57,273.38 L139.48,273.58 L138.39,273.77 L137.30,273.96 L136.21,274.14 L135.12,274.32 L134.03,274.49 L132.94,274.66 L131.86,274.82 L130.77,274.98 L129.68,275.13 L128.59,275.28 L127.50,275.42 L126.41,275.56 L125.32,275.69 L124.24,275.82 L123.15,275.95 L122.06,276.07 L120.97,276.18 L119.88,276.29 L118.79,276.40 L117.70,276.51 L116.62,276.60 L115.53,276.70 L114.44,276.79 L113.35,276.88 L112.26,276.96 L111.17,277.04 L110.08,277.12 L108.99,277.19 L107.91,277.26 L106.82,277.33 L105.73,277.39 L104.64,277.45 L103.55,277.50 L102.46,277.56 L101.37,277.61 L100.29,277.65 L99.20,277.69 L98.11,277.73 L97.02,277.76 L95.93,277.78 L94.84,277.80 L93.75,277.82 L92.67,277.82 L91.58,277.82 L90.49,277.81 L89.40,277.79 L88.31,277.76 L87.22,277.72 L86.13,277.67 L85.05,277.61 L83.96,277.54 L82.87,277.46 L81.78,277.37 L80.69,277.26 L79.60,277.14 L78.51,277.01 L77.42,276.86 L76.34,276.70 L75.25,276.52 L74.16,276.33 L73.07,276.13 L71.98,275.90 L70.89,275.66 L69.80,275.41 L68.72,275.13 L67.63,274.84 L66.54,274.53 L65.45,274.20 L64.36,273.85 L63.27,273.48 L62.18,273.09 L61.10,272.68 L60.01,272.26 L58.92,271.81 L57.83,271.34 L56.74,270.85 L55.65,270.35 L54.56,269.82 L53.47,269.27 L52.39,268.70 L51.30,268.10 L50.21,267.49 L49.12,266.86 L48.03,266.20 L46.94,265.52 L45.85,264.82 L44.77,264.10 L43.68,263.35 L42.59,262.58 L41.50,261.80 Z" fill="#2A87DE" fill-opacity="0.75" stroke="#2a2a2a" stroke-width="1.2" stroke-linejoin="round"/>
<rect x="7.9" y="4.9" width="420.00" height="300.95" fill="none" stroke="#9a9a9a" stroke-width="1.6"/>
<line x1="4.8" y1="61.1" x2="7.9" y2="61.1" stroke="#333" stroke-width="1.2"/>
<line x1="4.8" y1="155.2" x2="7.9" y2="155.2" stroke="#333" stroke-width="1.2"/>
<line x1="4.8" y1="249.4" x2="7.9" y2="249.4" stroke="#333" stroke-width="1.2"/>
<line x1="26.30" y1="305.85" x2="26.30" y2="309.1" stroke="#333" stroke-width="1.2"/>
<text x="26.30" y="316.8" text-anchor="middle" font-size="8.75" fill="#4d4d4d">25</text>
<line x1="122.00" y1="305.85" x2="122.00" y2="309.1" stroke="#333" stroke-width="1.2"/>
<text x="122.00" y="316.8" text-anchor="middle" font-size="8.75" fill="#4d4d4d">50</text>
<line x1="217.70" y1="305.85" x2="217.70" y2="309.1" stroke="#333" stroke-width="1.2"/>
<text x="217.70" y="316.8" text-anchor="middle" font-size="8.75" fill="#4d4d4d">75</text>
<line x1="313.40" y1="305.85" x2="313.40" y2="309.1" stroke="#333" stroke-width="1.2"/>
<text x="313.40" y="316.8" text-anchor="middle" font-size="8.75" fill="#4d4d4d">100</text>
<line x1="409.10" y1="305.85" x2="409.10" y2="309.1" stroke="#333" stroke-width="1.2"/>
<text x="409.10" y="316.8" text-anchor="middle" font-size="8.75" fill="#4d4d4d">125</text>
<text x="217.55" y="329.8" text-anchor="middle" font-size="11.0" fill="#000">Pre-Treatment RCADS T-Score (Youth Self-Report)</text>
<text x="460.6" y="123.8" font-size="10.85" fill="#000">Symptom Domain</text>
<rect x="461.0" y="131.60" width="15.4" height="15.4" fill="#FF7A4F" fill-opacity="0.75" stroke="#2a2a2a" stroke-width="1.2"/>
<text x="482.6" y="142.70" font-size="8.75" fill="#000">OCD</text>
<rect x="461.0" y="148.45" width="15.4" height="15.4" fill="#1CD63E" fill-opacity="0.75" stroke="#2a2a2a" stroke-width="1.2"/>
<text x="482.6" y="159.55" font-size="8.75" fill="#000">Anxiety</text>
<rect x="461.0" y="165.30" width="15.4" height="15.4" fill="#2A87DE" fill-opacity="0.75" stroke="#2a2a2a" stroke-width="1.2"/>
<text x="482.6" y="176.40" font-size="8.75" fill="#000">Depression</text>
<text x="292" y="349.8" text-anchor="middle" class="sf" font-weight="bold" font-size="12" fill="#000">(a)</text>
</svg>
</body></html>
